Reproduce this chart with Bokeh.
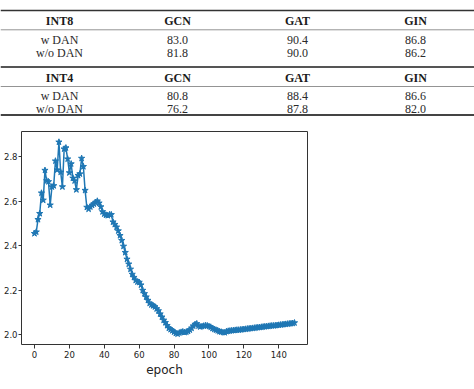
from bokeh.plotting import figure
from bokeh.layouts import column, row
from bokeh.models import Range1d, FixedTicker, PrintfTickFormatter
from bokeh.core.properties import value
from bokeh.embed import file_html
from bokeh.resources import INLINE

# ---------------- data ----------------
quant_levels = ["INT8", "INT4"]
models = ["GCN", "GAT", "GIN"]
row_labels = ["w DAN", "w/o DAN"]
int8_w_dan = [83.0, 90.4, 86.8]
int8_wo_dan = [81.8, 90.0, 86.2]
int4_w_dan = [80.8, 88.4, 86.6]
int4_wo_dan = [76.2, 87.8, 82.0]

epochs = list(range(150))
scale_values = [
    2.455, 2.462, 2.518, 2.545, 2.637, 2.605, 2.739, 2.692, 2.688, 2.583,
    2.665, 2.670, 2.781, 2.741, 2.866, 2.731, 2.665, 2.835, 2.840, 2.790,
    2.728, 2.768, 2.704, 2.692, 2.652, 2.716, 2.723, 2.793, 2.756, 2.649,
    2.573, 2.565, 2.575, 2.582, 2.588, 2.595, 2.601, 2.592, 2.575, 2.553,
    2.543, 2.538, 2.536, 2.540, 2.540, 2.507, 2.496, 2.484, 2.467, 2.446,
    2.424, 2.398, 2.370, 2.340, 2.318, 2.295, 2.272, 2.258, 2.245, 2.238,
    2.236, 2.224, 2.200, 2.185, 2.170, 2.155, 2.142, 2.135, 2.131, 2.126,
    2.117, 2.108, 2.094, 2.080, 2.066, 2.055, 2.042, 2.030, 2.024, 2.019,
    2.013, 2.007, 2.004, 2.009, 2.012, 2.014, 2.011, 2.013, 2.016, 2.022,
    2.030, 2.040, 2.047, 2.050, 2.040, 2.036, 2.038, 2.040, 2.042, 2.041,
    2.038, 2.035, 2.029, 2.025, 2.022, 2.019, 2.015, 2.013, 2.011, 2.010,
    2.015, 2.017, 2.018, 2.019, 2.020, 2.021, 2.022, 2.022, 2.023, 2.024,
    2.025, 2.026, 2.027, 2.028, 2.029, 2.030, 2.031, 2.032, 2.033, 2.034,
    2.035, 2.036, 2.037, 2.038, 2.039, 2.040, 2.041, 2.041, 2.042, 2.043,
    2.044, 2.045, 2.046, 2.047, 2.048, 2.049, 2.050, 2.051, 2.052, 2.054,
]
x_ticks = [0, 20, 40, 60, 80, 100, 120, 140]
y_ticks = [2.0, 2.2, 2.4, 2.6, 2.8]
x_label = "epoch"

# ---------------- table ----------------
TW, TH = 474, 120
t = figure(width=TW, height=TH, x_range=Range1d(0, TW), y_range=Range1d(TH, 0),
           output_backend="svg", toolbar_location=None, min_border=0,
           min_border_left=0, min_border_right=0, min_border_top=0, min_border_bottom=0,
           x_axis_location=None, y_axis_location=None)
t.grid.visible = False
t.outline_line_color = None

col_x = [59, 177, 297, 415]
header_y = [20, 77]
rows_y = [[39, 52.5], [95, 108]]
thin_rules = [29.3, 86]
thick_rules = [(10, 1.6, "#333333"), (66.5, 2.0, "#555555"), (114.5, 2.0, "#444444")]

serif = value("Liberation Serif")
block_vals = [[int8_w_dan, int8_wo_dan], [int4_w_dan, int4_wo_dan]]
for b, level in enumerate(quant_levels):
    hdr = [level] + models
    t.text(x=col_x, y=[header_y[b]] * 4, text=hdr, text_align="center",
           text_baseline="middle", text_font=serif, text_font_size="12px",
           text_font_style="bold", text_color="#1a1a1a")
    for r, lab in enumerate(row_labels):
        vals = [f"{v:.1f}" for v in block_vals[b][r]]
        t.text(x=col_x, y=[rows_y[b][r]] * 4, text=[lab] + vals, text_align="center",
               text_baseline="middle", text_font=serif, text_font_size="12px",
               text_color="#2a2a2a")
for yv in thin_rules:
    t.segment(x0=[0], y0=[yv], x1=[TW], y1=[yv], line_color="#888888", line_width=0.9)
for yv, lw, lc in thick_rules:
    t.segment(x0=[0], y0=[yv], x1=[TW], y1=[yv], line_color=lc, line_width=lw)

# ---------------- chart ----------------
pad_x = (max(epochs) - min(epochs)) * 0.05
pad_y = (max(scale_values) - min(scale_values)) * 0.055
c = figure(width=309, height=269,
           x_range=Range1d(min(epochs) - pad_x, max(epochs) + pad_x),
           y_range=Range1d(min(scale_values) - pad_y, max(scale_values) + pad_y),
           output_backend="svg", toolbar_location=None,
           min_border_top=11, min_border_right=2, min_border_bottom=45, min_border_left=0)
c.grid.visible = False
c.outline_line_color = "#333333"
c.outline_line_width = 1
c.background_fill_color = "white"
c.border_fill_color = "white"

c.line(epochs, scale_values, line_color="#1f77b4", line_width=1.5)
c.scatter(epochs, scale_values, marker="star", size=6.5, fill_color="#1f77b4",
          line_color="#1f77b4")

c.xaxis.ticker = FixedTicker(ticks=x_ticks)
c.yaxis.ticker = FixedTicker(ticks=y_ticks)
c.yaxis.formatter = PrintfTickFormatter(format="%.1f")
c.xaxis.axis_label = x_label
for ax in (c.xaxis[0], c.yaxis[0]):
    ax.axis_line_color = None
    ax.minor_tick_line_color = None
    ax.major_tick_out = 4
    ax.major_tick_in = 0
    ax.major_tick_line_color = "#333333"
    ax.major_label_text_font = "DejaVu Sans"
    ax.major_label_text_font_size = "8.5px"
    ax.major_label_text_color = "#222222"
    ax.major_label_standoff = 2
c.yaxis.major_tick_out = 3
c.yaxis.major_label_standoff = 1
c.xaxis.axis_label_text_font = "DejaVu Sans"
c.xaxis.axis_label_text_font_size = "12px"
c.xaxis.axis_label_text_font_style = "normal"
c.xaxis.axis_label_text_color = "#222222"
c.xaxis.axis_label_standoff = 2

layout = column(row(t), row(c), spacing=0)
open("out.html", "w").write(file_html(layout, INLINE))
